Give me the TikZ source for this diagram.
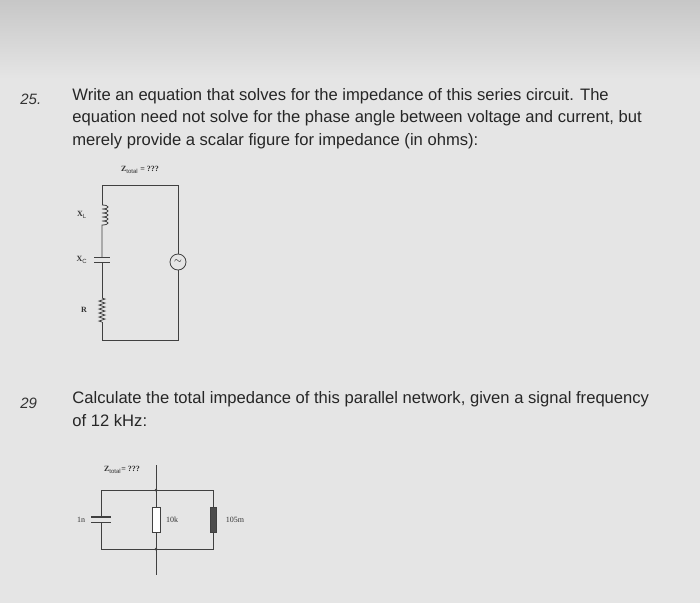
\documentclass[tikz,border=0pt]{standalone}
\usepackage{fontspec}
\setmainfont{Liberation Sans}
\newfontfamily\serifc{Liberation Serif}
\usetikzlibrary{decorations.pathmorphing}
\begin{document}
\begin{tikzpicture}[x=1pt,y=-1pt,line width=0.8pt,
  q/.style={anchor=west,inner sep=0,font=\fontsize{16.6}{20}\selectfont,text=black!85},
  hand/.style={anchor=west,inner sep=0,font=\fontsize{15}{18}\selectfont\itshape,text=black!80},
  lbl/.style={font=\serifc\fontsize{8}{9}\selectfont\bfseries,text=black!80},
  w/.style={draw=black!75,line width=0.8pt}]
\shade[top color=black!22,bottom color=black!10] (0,0) rectangle (700,80);
\fill[black!10] (0,80) rectangle (700,603);
\useasboundingbox (0,0) rectangle (700,603);
\node[hand] (n25) at (20,99) {25.};
\node[q] (t1) at (72,96) {Write an equation that solves for the impedance of this series circuit. The};
\node[q] (t2) at (72,118) {equation need not solve for the phase angle between voltage and current, but};
\node[q] (t3) at (72,141) {merely provide a scalar figure for impedance (in ohms):};
% series circuit
\node[lbl] (z1) at (140,170) {Z$_{\mathrm{total}}$ = ???};
\coordinate (tl) at (102,185); \coordinate (tr) at (178,185);
\coordinate (bl) at (102,340); \coordinate (br) at (178,340);
\node[circle,draw=black!75,minimum size=16pt,inner sep=0] (src) at (178,262) {$\sim$};
\draw[w] (102,205) -- (tl) -- (tr) -- (src.north);
\draw[w] (src.south) -- (br) -- (bl) -- (102,322);
\draw[w] (102,205) .. controls (110,205) and (110,209) .. (102,209) .. controls (110,209) and (110,213) .. (102,213)
  .. controls (110,213) and (110,217) .. (102,217) .. controls (110,217) and (110,221) .. (102,221)
  .. controls (110,221) and (110,225) .. (102,225) -- (102,257);
\draw[w] (94,257) -- (110,257); \draw[w] (94,262) -- (110,262);
\draw[w] (102,262) -- (102,298);
\draw[w,decorate,decoration={zigzag,segment length=4pt,amplitude=3pt}] (102,298) -- (102,322);
\node[lbl] (xl) at (82,215) {X$_{\mathrm{L}}$};
\node[lbl] (xc) at (82,260) {X$_{\mathrm{C}}$};
\node[lbl] (r) at (84,310) {R};
% question 29
\node[hand] (n29) at (20,403) {29};
\node[q] (t4) at (72,399) {Calculate the total impedance of this parallel network, given a signal frequency};
\node[q] (t5) at (72,421) {of 12 kHz:};
\node[lbl] (z2) at (122,470) {Z$_{\mathrm{total}}$= ???};
\coordinate (a) at (156,465); \coordinate (b) at (156,575);
\draw[w] (a) -- (156,507); \draw[w] (156,532) -- (b);
\draw[w] (101,517) -- (101,490) -- (213,490) -- (213,507);
\draw[w] (101,523) -- (101,549) -- (213,549) -- (213,532);
\draw[w,line width=1.8pt] (91,517) -- (111,517); \draw[w,line width=1.8pt] (91,522.5) -- (111,522.5);
\draw[w,fill=white] (152,507) rectangle (160,532);
\draw[w,fill=black!70] (210,507) rectangle (216,532);
\fill[black!75] (156,490) circle (1.5); \fill[black!75] (156,549) circle (1.5);
\node[lbl,font=\serifc\fontsize{8}{9}\selectfont] (c1) at (81,520) {1n};
\node[lbl,font=\serifc\fontsize{8}{9}\selectfont] (r1) at (172,520) {10k};
\node[lbl,font=\serifc\fontsize{8}{9}\selectfont] (l1) at (235,520) {105m};
\end{tikzpicture}
\end{document}
